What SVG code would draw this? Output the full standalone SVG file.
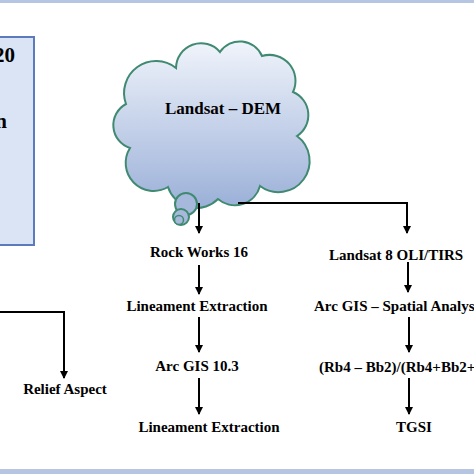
<svg xmlns="http://www.w3.org/2000/svg" width="474" height="474" viewBox="0 0 474 474">
<defs>
<linearGradient id="cg" x1="0" y1="0" x2="0" y2="1">
<stop offset="0" stop-color="#f0f4fb"/>
<stop offset="1" stop-color="#9bb0d8"/>
</linearGradient>
<marker id="ah" markerWidth="8" markerHeight="8" refX="7" refY="4" orient="auto" markerUnits="userSpaceOnUse">
<path d="M0,0 L8,4 L0,8 Z" fill="#000"/>
</marker>
<style>
.t{font-family:"Liberation Serif","Times New Roman",serif;font-weight:bold;font-size:15px;fill:#000}
.c{text-anchor:middle}
.big{font-size:21px}
.med{font-size:17px}
.ar{fill:none;stroke:#000;stroke-width:2;marker-end:url(#ah)}
</style>
</defs>
<rect width="474" height="474" fill="#fff"/>
<rect x="0" y="0" width="474" height="3" fill="#b6c5e2"/>
<rect x="0" y="469" width="474" height="5" fill="#b6c5e2"/>

<g id="left-box">
<rect x="-5" y="37" width="39" height="208" fill="#dbe4f4" stroke="#5b7bbd" stroke-width="2"/>
<text class="t big" x="15" y="62" text-anchor="end">20</text>
<text class="t big" x="7" y="128" text-anchor="end">n</text>
</g>

<g id="cloud">
<path d="M130,148 A24,24 0 0 1 126,104 A32,32 0 0 1 176,68 A25,25 0 0 1 220,52 A24,24 0 0 1 262,56 A26,26 0 0 1 293,92 A25,25 0 0 1 297,136 A30,30 0 0 1 260,186 A26,26 0 0 1 218,199 A30,30 0 0 1 168,187 A28,28 0 0 1 130,148 Z" fill="url(#cg)" stroke="#3f8a70" stroke-width="2"/>
<circle cx="186" cy="204" r="11" fill="#a6b8dc" stroke="#3f8a70" stroke-width="2"/>
<circle cx="181" cy="217" r="8" fill="#a6b8dc" stroke="#3f8a70" stroke-width="2"/>
<circle cx="179" cy="220" r="4.5" fill="#a6b8dc" stroke="#3f8a70" stroke-width="1.5"/>
<text class="t c med" x="223" y="114">Landsat – DEM</text>
</g>

<g id="connectors">
<line class="ar" x1="199" y1="203" x2="199" y2="233"/>
<polyline class="ar" points="238,203 407,203 407,233"/>
<line class="ar" x1="199" y1="265" x2="199" y2="294"/>
<line class="ar" x1="199" y1="317" x2="199" y2="352"/>
<line class="ar" x1="199" y1="378" x2="199" y2="414"/>
<line class="ar" x1="408" y1="262" x2="408" y2="292"/>
<line class="ar" x1="409" y1="317" x2="409" y2="352"/>
<line class="ar" x1="409" y1="378" x2="409" y2="414"/>
<polyline class="ar" points="0,312 64,312 64,378"/>
</g>

<g id="n-rockworks"><text class="t c" x="199" y="257">Rock Works 16</text></g>
<g id="n-lineament1"><text class="t c" x="197" y="311">Lineament Extraction</text></g>
<g id="n-arcgis"><text class="t c" x="197" y="371">Arc GIS 10.3</text></g>
<g id="n-lineament2"><text class="t c" x="209" y="432">Lineament Extraction</text></g>
<g id="n-landsat8"><text class="t" x="329" y="260">Landsat 8 OLI/TIRS</text></g>
<g id="n-spatial"><text class="t" x="314" y="311">Arc GIS – Spatial Analys</text></g>
<g id="n-ratio"><text class="t" x="319" y="372">(Rb4 – Bb2)/(Rb4+Bb2+</text></g>
<g id="n-tgsi"><text class="t c" x="414" y="432">TGSI</text></g>
<g id="n-relief"><text class="t c" x="65" y="394">Relief Aspect</text></g>
</svg>
